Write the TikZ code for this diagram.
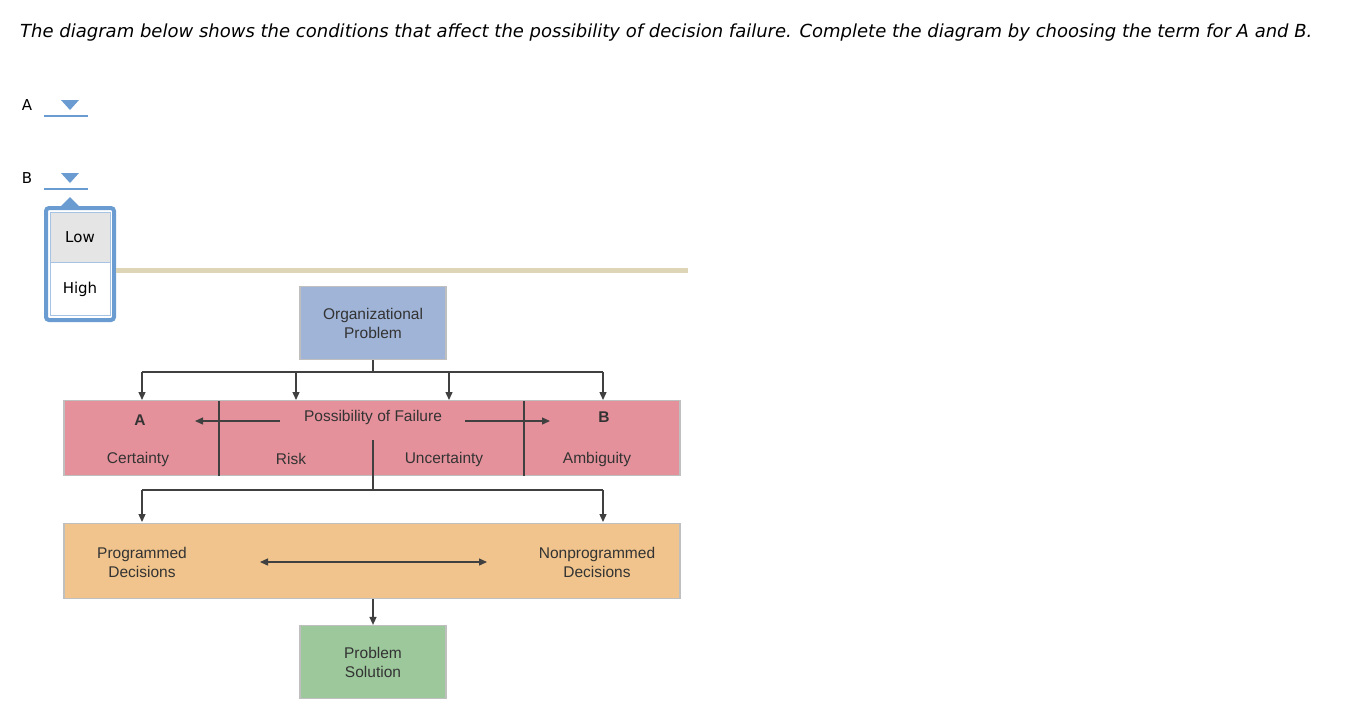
\documentclass[tikz,border=0pt]{standalone}
\usepackage{fontspec}
\setmainfont{Liberation Sans}
\newfontfamily\vfont{DejaVu Sans}
\usetikzlibrary{arrows.meta}
\definecolor{ddblue}{HTML}{6A9BD1}
\definecolor{orgblue}{HTML}{A0B4D8}
\definecolor{pinkb}{HTML}{E5919B}
\definecolor{orangeb}{HTML}{F0C48C}
\definecolor{greenb}{HTML}{9CC89C}
\definecolor{tanl}{HTML}{DDD5B5}
\definecolor{txt}{HTML}{333333}
\tikzset{
  box/.style={draw=black!25,line width=1.2pt,inner sep=0pt},
  lbl/.style={font=\fontsize{15.5}{19}\selectfont,text=txt,align=center,inner sep=0pt},
  conn/.style={draw=black!75,line width=1.3pt},
  arr/.style={conn,-{Triangle[length=8pt,width=7pt]}},
  ui/.style={font=\vfont\fontsize{15}{16}\selectfont,inner sep=0pt},
}
\begin{document}
\begin{tikzpicture}[x=1pt,y=-1pt]
\useasboundingbox (0,0) rectangle (1346,716);
\node[anchor=west,inner sep=0pt] (q) at (20,33) {\resizebox{1292pt}{!}{\vfont\itshape\fontsize{16}{18}\selectfont The diagram below shows the conditions that affect the possibility of decision failure. Complete the diagram by choosing the term for A and B.}};
% dropdowns
\node[ui] (la) at (27,105) {A};
\draw[ddblue,line width=2.5pt] (44,116) -- (88,116);
\fill[ddblue] (61,100) -- (79,100) -- (70,110) -- cycle;
\node[ui] (lb) at (27,178) {B};
\draw[ddblue,line width=2.5pt] (44,189) -- (88,189);
\fill[ddblue] (61,173) -- (79,173) -- (70,183) -- cycle;
\fill[ddblue] (61,206) -- (79,206) -- (70,197) -- cycle;
\draw[ddblue,line width=4pt,rounded corners=3pt,fill=white] (46,208) rectangle (114,320);
\node[draw=ddblue!60,fill=black!10,minimum width=60pt,minimum height=50pt,ui] (low) at (80,237) {Low};
\node[draw=ddblue!60,fill=white,minimum width=60pt,minimum height=53pt,ui] (high) at (80,289) {High};
\draw[tanl,line width=5pt] (116,270) -- (688,270);
% boxes
\node[box,fill=orgblue,minimum width=146pt,minimum height=73pt] (org) at (373,323) {};
\node[lbl] at (org) {Organizational\\Problem};
\node[box,fill=pinkb,minimum width=616pt,minimum height=75pt] (pink) at (372,438) {};
\node[box,fill=orangeb,minimum width=616pt,minimum height=75pt] (orange) at (372,561) {};
\node[box,fill=greenb,minimum width=146pt,minimum height=73pt] (sol) at (373,662) {};
\node[lbl] at (sol) {Problem\\Solution};
% top connectors
\coordinate (t0) at (373,372);
\draw[conn] (org.south) -- (t0);
\draw[conn] (142,372) -- (603,372);
\foreach \x/\n in {142/a,296/b,449/c,603/d}{
  \coordinate (p\n) at (\x,372);
  \draw[arr] (p\n) -- (\x,400);
}
% pink content
\draw[conn] (219,401) -- (219,476);
\draw[conn] (524,401) -- (524,476);
\draw[conn] (373,440) -- (373,490);
\node[lbl,font=\bfseries\fontsize{15.5}{16}\selectfont] (A) at (140,420) {A};
\node[lbl,font=\bfseries\fontsize{15.5}{16}\selectfont] (B) at (604,417) {B};
\node[lbl] (pf) at (373,417) {Possibility of Failure};
\draw[arr] (280,421) -- (195,421);
\draw[arr] (465,421) -- (550,421);
\node[lbl] at (138,459) {Certainty};
\node[lbl] at (291,459) {Risk};
\node[lbl] at (444,459) {Uncertainty};
\node[lbl] at (597,459) {Ambiguity};
% middle connectors
\draw[conn] (142,490) -- (603,490);
\draw[arr] (142,490) -- (142,522);
\draw[arr] (603,490) -- (603,522);
% orange content
\node[lbl] (pd) at (142,562) {Programmed\\Decisions};
\node[lbl] (nd) at (597,562) {Nonprogrammed\\Decisions};
\draw[conn,{Triangle[length=8pt,width=7pt]}-{Triangle[length=8pt,width=7pt]}] (260,562) -- (487,562);
\coordinate (ob) at (373,599);
\draw[arr] (ob) -- (sol.north);
\end{tikzpicture}
\end{document}
